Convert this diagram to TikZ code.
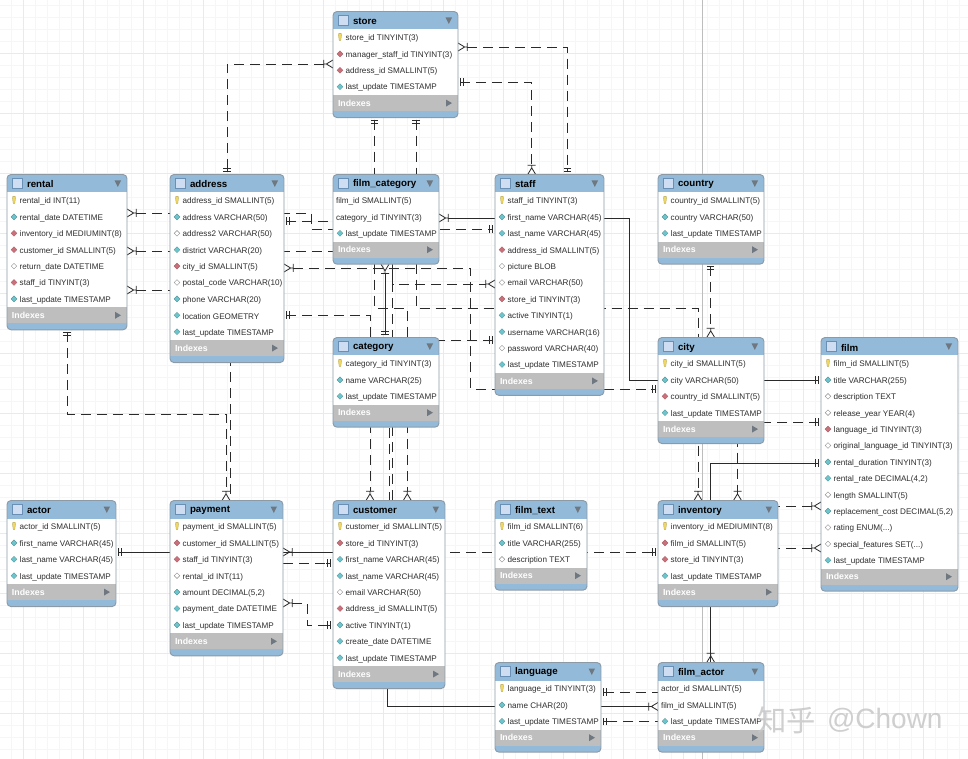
\documentclass[tikz,border=0pt]{standalone}
\usepackage{fontspec}
\setmainfont{Liberation Sans}
\newfontfamily\cjkwm{Noto Sans CJK SC}
\usetikzlibrary{arrows.meta}
\definecolor{hdr}{HTML}{93BAD8}
\definecolor{barg}{HTML}{BEBEBE}
\definecolor{edgec}{HTML}{8C9AA6}
\definecolor{gridf}{HTML}{F6F6F6}
\definecolor{gridm}{HTML}{EAEAEA}
\definecolor{icb}{HTML}{6CC4CC}
\definecolor{icr}{HTML}{C9707A}
\definecolor{ick}{HTML}{F0D860}
\definecolor{tric}{HTML}{6F7880}
\definecolor{lnc}{HTML}{2A2A2A}
\definecolor{hicon}{HTML}{CFDDF2}
\definecolor{hiconb}{HTML}{6A8FB5}
\pgfdeclarelayer{bgl}\pgfdeclarelayer{conn}\pgfdeclarelayer{wm}
\pgfsetlayers{bgl,conn,main,wm}
\newcommand\erdots{...}
\pgfdeclarearrow{
  name=ERmany,
  setup code={
    \pgfarrowssettipend{0pt}
    \pgfarrowssetbackend{-7pt}
    \pgfarrowssetvisualtipend{0pt}
    \pgfarrowssetvisualbackend{-7pt}
    \pgfarrowssetlineend{-6.8pt}
    \pgfarrowshullpoint{0pt}{3pt}
    \pgfarrowshullpoint{0pt}{-3pt}
    \pgfarrowshullpoint{-7pt}{3pt}
    \pgfarrowshullpoint{-7pt}{-3pt}
  },
  drawing code={
    \pgfsetdash{}{0pt}
    \pgfsetlinewidth{0.6pt}
    \pgfpathmoveto{\pgfqpoint{0pt}{3pt}}
    \pgfpathlineto{\pgfqpoint{-5pt}{0pt}}
    \pgfpathlineto{\pgfqpoint{0pt}{-3pt}}
    \pgfpathmoveto{\pgfqpoint{-7pt}{3pt}}
    \pgfpathlineto{\pgfqpoint{-7pt}{-3pt}}
    \pgfpathmoveto{\pgfqpoint{-5pt}{0pt}}
    \pgfpathlineto{\pgfqpoint{-7pt}{0pt}}
    \pgfusepathqstroke
  },
}
\pgfdeclarearrow{
  name=ERone,
  setup code={
    \pgfarrowssettipend{0pt}
    \pgfarrowssetbackend{-5pt}
    \pgfarrowssetvisualtipend{0pt}
    \pgfarrowssetvisualbackend{-5pt}
    \pgfarrowssetlineend{-1.5pt}
    \pgfarrowshullpoint{0pt}{3pt}
    \pgfarrowshullpoint{0pt}{-3pt}
    \pgfarrowshullpoint{-5pt}{3pt}
    \pgfarrowshullpoint{-5pt}{-3pt}
  },
  drawing code={
    \pgfsetdash{}{0pt}
    \pgfsetlinewidth{0.6pt}
    \pgfpathmoveto{\pgfqpoint{-2pt}{2.8pt}}
    \pgfpathlineto{\pgfqpoint{-2pt}{-2.8pt}}
    \pgfpathmoveto{\pgfqpoint{-4.2pt}{2.8pt}}
    \pgfpathlineto{\pgfqpoint{-4.2pt}{-2.8pt}}
    \pgfpathmoveto{\pgfqpoint{-1.5pt}{0pt}}
    \pgfpathlineto{\pgfqpoint{-5pt}{0pt}}
    \pgfusepathqstroke
  },
}
\tikzset{
  fk/.style={draw=lnc,line width=0.7pt,dash pattern=on 7.5pt off 4.5pt},
  idf/.style={draw=lnc,line width=0.7pt},
  manyone/.style={ERmany-ERone},
  onemany/.style={ERone-ERmany},
  tblbody/.style={rectangle,rounded corners=3pt,fill=white,inner sep=0pt,outer sep=0pt,anchor=north west},
  tblrow/.style={anchor=west,inner sep=0pt,outer sep=0pt,text=black!82,font=\fontsize{6.1}{7}\selectfont},
  tbltitle/.style={anchor=west,inner sep=0pt,outer sep=0pt,text=black,font=\fontsize{7.3}{8}\selectfont\bfseries},
  tblidx/.style={anchor=west,inner sep=0pt,outer sep=0pt,text=white,font=\fontsize{6.6}{8}\selectfont\bfseries},
  wmark/.style={anchor=west,inner sep=0pt,outer sep=0pt,text=black!22,opacity=0.85},
}
\newcommand\ericonk[2]{\fill[ick,draw=ick!70!black,line width=0.2pt] (#1-1.6,#2-3.6) .. controls (#1-0.6,#2-4.6) and (#1+0.6,#2-4.6) .. (#1+1.6,#2-3.6) -- (#1+0.8,#2+3) -- (#1-0.8,#2+3) -- cycle;}
\newcommand\ericonb[2]{\fill[icb,draw=icb!70!black,line width=0.2pt] (#1-3,#2) -- (#1,#2-3) -- (#1+3,#2) -- (#1,#2+3) -- cycle;}
\newcommand\ericonr[2]{\fill[icr,draw=icr!80!black,line width=0.2pt] (#1-3,#2) -- (#1,#2-3) -- (#1+3,#2) -- (#1,#2+3) -- cycle;}
\newcommand\ericonw[2]{\fill[white,draw=black!45,line width=0.3pt] (#1-2.8,#2) -- (#1,#2-2.8) -- (#1+2.8,#2) -- (#1,#2+2.8) -- cycle;}
\newcommand\ericonn[2]{}
% name, left, top, width, number of rows, title, rows
\newcommand\ertable[7]{%
  \pgfmathsetmacro\tblH{40.5+16.4*#5}%
  \pgfmathsetmacro\tblR{#2+#4}%
  \pgfmathsetmacro\tblB{#3+\tblH}%
  \pgfmathsetmacro\tblBarT{#3+18+16.4*#5}%
  \pgfmathsetmacro\tblBarB{\tblBarT+16}%
  \pgfmathsetmacro\tblBarM{\tblBarT+8}%
  \node[tblbody,minimum width={#4*0.75pt},minimum height={\tblH*0.75pt}] (#1) at (#2,#3) {};
  \begin{scope}
    \clip[rounded corners=3pt] (#2,#3) rectangle (\tblR,\tblB);
    \fill[hdr] (#2,#3) rectangle (\tblR,#3+18);
    \fill[barg] (#2,\tblBarT) rectangle (\tblR,\tblBarB);
    \fill[hdr] (#2,\tblBarB) rectangle (\tblR,\tblB);
  \end{scope}
  \draw[edgec,line width=0.7pt,rounded corners=3pt] (#2,#3) rectangle (\tblR,\tblB);
  \fill[hicon,draw=hiconb,line width=0.4pt] (#2+5,#3+4) rectangle (#2+15,#3+14);
  \node[tbltitle] (#1-title) at (#2+20,#3+10) {#6};
  \fill[tric] (\tblR-12.5,#3+6) -- (\tblR-6,#3+6) -- (\tblR-9.2,#3+12.5) -- cycle;
  \node[tblidx] (#1-idx) at (#2+5,\tblBarM) {Indexes};
  \fill[tric] (\tblR-12,\tblBarM-3.5) -- (\tblR-6,\tblBarM) -- (\tblR-12,\tblBarM+3.5) -- cycle;
  \foreach \ic/\tx [count=\rowi from 0] in {#7} {
    \pgfmathsetmacro\rowy{#3+26+16.4*\rowi}
    \pgfmathsetmacro\rowty{\rowy+1.2}
    \pgfmathsetmacro\iconx{#2+7}
    \csname ericon\ic\endcsname{\iconx}{\rowy}
    \edef\isn{\ic}\def\nn{n}
    \ifx\isn\nn\def\rowoff{3}\else\def\rowoff{12.7}\fi
    \node[tblrow] (#1-r\rowi) at (#2+\rowoff,\rowty) {\tx};
  }
}
\begin{document}
\begin{tikzpicture}[x=0.75pt,y=-0.75pt]
\useasboundingbox (0,0) rectangle (968,759);
\begin{pgfonlayer}{bgl}
\fill[white] (0,0) rectangle (968,759);
\foreach \gx in {-1,11,...,968} {\draw[gridf,line width=0.6pt] (\gx,0) -- (\gx,759);}
\foreach \gy in {5,17,...,759} {\draw[gridf,line width=0.6pt] (0,\gy) -- (968,\gy);}
\foreach \gx in {23,83,...,968} {\draw[gridm,line width=0.7pt] (\gx,0) -- (\gx,759);}
\foreach \gy in {53,113,...,759} {\draw[gridm,line width=0.7pt] (0,\gy) -- (968,\gy);}
\draw[black!26,line width=0.7pt] (702.5,0) -- (702.5,759);
\end{pgfonlayer}
\ertable{rental}{7}{174.5}{120}{7}{rental}{k/rental\_id INT(11),b/rental\_date DATETIME,r/inventory\_id MEDIUMINT(8),r/customer\_id SMALLINT(5),w/return\_date DATETIME,r/staff\_id TINYINT(3),b/last\_update TIMESTAMP}
\ertable{address}{170}{174.5}{114}{9}{address}{k/address\_id SMALLINT(5),b/address VARCHAR(50),w/address2 VARCHAR(50),b/district VARCHAR(20),r/city\_id SMALLINT(5),w/postal\_code VARCHAR(10),b/phone VARCHAR(20),b/location GEOMETRY,b/last\_update TIMESTAMP}
\ertable{store}{333}{11.5}{125}{4}{store}{k/store\_id TINYINT(3),r/manager\_staff\_id TINYINT(3),r/address\_id SMALLINT(5),b/last\_update TIMESTAMP}
\ertable{film_category}{333}{174.5}{106}{3}{film\_category}{n/film\_id SMALLINT(5),n/category\_id TINYINT(3),b/last\_update TIMESTAMP}
\ertable{staff}{495}{174.5}{109}{11}{staff}{k/staff\_id TINYINT(3),b/first\_name VARCHAR(45),b/last\_name VARCHAR(45),r/address\_id SMALLINT(5),w/picture BLOB,w/email VARCHAR(50),r/store\_id TINYINT(3),b/active TINYINT(1),b/username VARCHAR(16),w/password VARCHAR(40),b/last\_update TIMESTAMP}
\ertable{country}{658}{174.5}{106}{3}{country}{k/country\_id SMALLINT(5),b/country VARCHAR(50),b/last\_update TIMESTAMP}
\ertable{category}{333}{337.5}{106}{3}{category}{k/category\_id TINYINT(3),b/name VARCHAR(25),b/last\_update TIMESTAMP}
\ertable{city}{658}{337.5}{106}{4}{city}{k/city\_id SMALLINT(5),b/city VARCHAR(50),r/country\_id SMALLINT(5),b/last\_update TIMESTAMP}
\ertable{film}{821}{337.5}{137}{13}{film}{k/film\_id SMALLINT(5),b/title VARCHAR(255),w/description TEXT,w/release\_year YEAR(4),r/language\_id TINYINT(3),w/original\_language\_id TINYINT(3),b/rental\_duration TINYINT(3),b/rental\_rate {DECIMAL(4,2)},w/length SMALLINT(5),b/replacement\_cost {DECIMAL(5,2)},w/rating ENUM(\erdots),w/special\_features SET(\erdots),b/last\_update TIMESTAMP}
\ertable{actor}{7}{500.5}{109}{4}{actor}{k/actor\_id SMALLINT(5),b/first\_name VARCHAR(45),b/last\_name VARCHAR(45),b/last\_update TIMESTAMP}
\ertable{payment}{170}{500.5}{113}{7}{payment}{k/payment\_id SMALLINT(5),r/customer\_id SMALLINT(5),r/staff\_id TINYINT(3),w/rental\_id INT(11),b/amount {DECIMAL(5,2)},b/payment\_date DATETIME,b/last\_update TIMESTAMP}
\ertable{customer}{333}{500.5}{112}{9}{customer}{k/customer\_id SMALLINT(5),r/store\_id TINYINT(3),b/first\_name VARCHAR(45),b/last\_name VARCHAR(45),w/email VARCHAR(50),r/address\_id SMALLINT(5),b/active TINYINT(1),b/create\_date DATETIME,b/last\_update TIMESTAMP}
\ertable{film_text}{495}{500.5}{92}{3}{film\_text}{k/film\_id SMALLINT(6),b/title VARCHAR(255),w/description TEXT}
\ertable{inventory}{658}{500.5}{120}{4}{inventory}{k/inventory\_id MEDIUMINT(8),r/film\_id SMALLINT(5),r/store\_id TINYINT(3),b/last\_update TIMESTAMP}
\ertable{language}{495}{662.5}{106}{3}{language}{k/language\_id TINYINT(3),b/name CHAR(20),b/last\_update TIMESTAMP}
\ertable{film_actor}{658}{662.5}{106}{3}{film\_actor}{n/actor\_id SMALLINT(5),n/film\_id SMALLINT(5),b/last\_update TIMESTAMP}
\begin{pgfonlayer}{conn}
\draw[fk,manyone] (store.west |- 0,64) -- (227,64) -- (227,0 |- address.north);
\draw[fk,manyone] (store.east |- 0,47) -- (567.5,47) -- (567.5,0 |- staff.north);
\draw[fk,onemany] (store.east |- 0,82) -- (531.7,82) -- (531.7,0 |- staff.north);
\draw[fk,onemany] (374.7,0 |- store.south) -- (374.7,308) -- (407.3,308) -- (407.3,0 |- customer.north);
\draw[fk,onemany] (416,0 |- store.south) -- (416,308) -- (698,308) -- (698,0 |- inventory.north);
\draw[fk,onemany] (67,0 |- rental.south) -- (67,414) -- (226,414) -- (226,0 |- payment.north);
\draw[fk,manyone] (rental.east |- 0,213) -- (311,213) -- (311,229) -- (staff.west |- 0,229);
\draw[fk,ERmany-] (rental.east |- 0,251) -- (392.6,251) -- (392.6,0 |- customer.north);
\draw[fk,manyone] (rental.east |- 0,290) -- (230,290) -- (230,552) -- (inventory.west |- 0,552);
\draw[fk,onemany] (address.east |- 0,221) -- (392.6,221) -- (392.6,284) -- (staff.west |- 0,284);
\draw[fk,onemany] (address.east |- 0,315) -- (370,315) -- (370,0 |- customer.north);
\draw[fk,manyone] (address.east |- 0,268) -- (470.7,268) -- (470.7,389) -- (city.west |- 0,389);
\draw[fk,onemany] (staff.west |- 0,340) -- (389,340) -- (389,552) -- (payment.east |- 0,552);
\draw[fk,-ERone] (payment.east |- 0,563) -- (customer.west |- 0,563);
\draw[fk,manyone] (payment.east |- 0,603) -- (307,603) -- (307,625) -- (customer.west |- 0,625);
\draw[idf,onemany] (actor.east |- 0,552) -- (387,552) -- (387,706.5) -- (film_actor.west |- 0,706.5);
\draw[idf,manyone] (film_category.east |- 0,218) -- (629,218) -- (629,380) -- (film.west |- 0,380);
\draw[idf,manyone] (385,0 |- film_category.south) -- (385,0 |- category.north);
\draw[fk,onemany] (710.7,0 |- country.south) -- (710.7,0 |- city.north);
\draw[fk,onemany] (film.west |- 0,422) -- (737.5,422) -- (737.5,0 |- inventory.north);
\draw[idf,onemany] (film.west |- 0,463) -- (710.7,463) -- (710.7,0 |- film_actor.north);
\draw[fk,manyone] (film.west |- 0,506) -- (710.7,506) -- (710.7,692) -- (language.east |- 0,692);
\draw[fk,manyone] (film.west |- 0,548) -- (710.7,548) -- (710.7,721.5) -- (language.east |- 0,721.5);
\end{pgfonlayer}
\begin{pgfonlayer}{wm}
\node[wmark,font=\cjkwm\fontsize{22}{24}\selectfont] (wm-zh) at (757,720) {知乎};
\node[wmark,font=\fontsize{21}{24}\selectfont] (wm-en) at (827,720) {@Chown};
\end{pgfonlayer}
\end{tikzpicture}
\end{document}
